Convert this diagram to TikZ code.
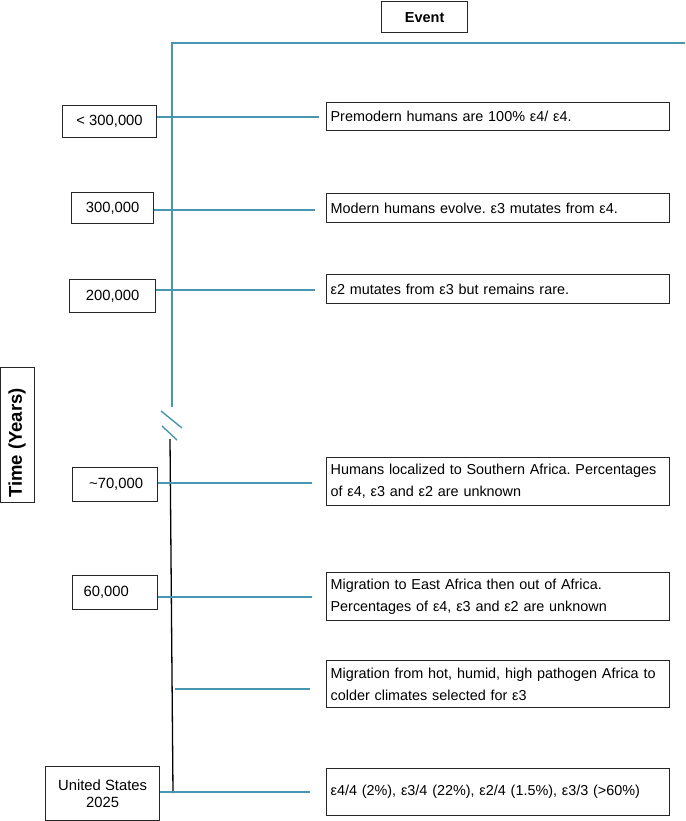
\documentclass[tikz,border=0pt]{standalone}
\usepackage{fontspec}
\setmainfont{Liberation Sans}
\frenchspacing
\begin{document}
\begin{tikzpicture}[x=1pt,y=-1pt,
  teal line/.style={draw=tealc,line width=1.4pt},
  boxline/.style={draw=black!85,line width=1.2pt},
  evbox/.style={boxline,anchor=north west,inner xsep=4pt,inner ysep=0pt,
    text width=335pt,minimum width=343pt,align=left,
    font=\fontsize{14.4}{22}\selectfont},
  tbox/.style={boxline,anchor=north west,inner sep=0pt,align=center,
    font=\fontsize{14.8}{17}\selectfont}]
\definecolor{tealc}{RGB}{72,150,176}
\useasboundingbox (0,0) rectangle (685,821);
% header
\node[boxline,anchor=north west,minimum width=86pt,minimum height=31pt,inner sep=0pt,
  font=\bfseries\fontsize{14.5}{17}\selectfont] (ev) at (381,1) {Event};
\node[boxline,anchor=north west,minimum width=34pt,minimum height=135pt,inner sep=0pt] (tb) at (0,367) {};
\node[rotate=90,font=\bfseries\fontsize{18.5}{20}\selectfont] (tl) at (17,443) {Time (Years)};
% axis
\coordinate (top) at (172,43);
\coordinate (topr) at (685,43);
\coordinate (axbrk) at (172,407);
\draw[teal line] (topr) -- (top) -- (axbrk);
\coordinate (b1a) at (161,411); \coordinate (b1b) at (182,428);
\coordinate (b2a) at (162,426); \coordinate (b2b) at (177,440);
\draw[teal line] (b1a) -- (b1b);
\draw[teal line] (b2a) -- (b2b);
\coordinate (axlow) at (170,439);
\coordinate (axend) at (173,793);
\draw[black,line width=1.3pt] (axlow) -- (axend);
% event boxes
\node[evbox,minimum height=28pt] (e1) at (326,102) {Premodern humans are 100\% ε4/ ε4.};
\node[evbox,minimum height=29pt] (e2) at (326,193) {Modern humans evolve. ε3 mutates from ε4.};
\node[evbox,minimum height=29pt] (e3) at (326,274) {ε2 mutates from ε3 but remains rare.};
\node[evbox,minimum height=48pt] (e4) at (326,457) {Humans localized to Southern Africa. Percentages\\of ε4, ε3 and ε2 are unknown};
\node[evbox,minimum height=48pt] (e5) at (326,572) {Migration to East Africa then out of Africa.\\Percentages of ε4, ε3 and ε2 are unknown};
\node[evbox,minimum height=47pt] (e6) at (326,660) {Migration from hot, humid, high pathogen Africa to\\colder climates selected for ε3};
\node[evbox,minimum height=47pt] (e7) at (326,768) {ε4/4 (2\%), ε3/4 (22\%), ε2/4 (1.5\%), ε3/3 (>60\%)};
% time boxes
\node[tbox,minimum width=94pt,minimum height=32pt] (t1) at (62,105) {< 300,000};
\node[tbox,minimum width=82pt,minimum height=31pt] (t2) at (71,192) {300,000};
\node[tbox,minimum width=86pt,minimum height=33pt] (t3) at (69,279) {200,000};
\node[tbox,minimum width=85pt,minimum height=34pt] (t4) at (72,467) {\hspace*{2pt}\textasciitilde70,000};
\node[tbox,minimum width=85pt,minimum height=34pt,align=left,text width=77pt,inner xsep=0pt] (t5) at (72,575) {\hspace*{7pt}60,000};
\node[tbox,minimum width=114pt,minimum height=54pt] (t6) at (45,766) {United States\\2025};
% connectors
\coordinate (c1) at (319,117);
\coordinate (c2) at (315,210);
\coordinate (c3) at (315,290);
\coordinate (c4) at (312,483);
\coordinate (c5) at (312,597);
\coordinate (c6s) at (175,689);
\coordinate (c6) at (310,689);
\coordinate (c7) at (310,792);
\draw[teal line] (t1.east |- c1) -- (c1);
\draw[teal line] (t2.east |- c2) -- (c2);
\draw[teal line] (t3.east |- c3) -- (c3);
\draw[teal line] (t4.east |- c4) -- (c4);
\draw[teal line] (t5.east |- c5) -- (c5);
\draw[teal line] (c6s) -- (c6);
\draw[teal line] (t6.east |- c7) -- (c7);
\end{tikzpicture}
\end{document}
